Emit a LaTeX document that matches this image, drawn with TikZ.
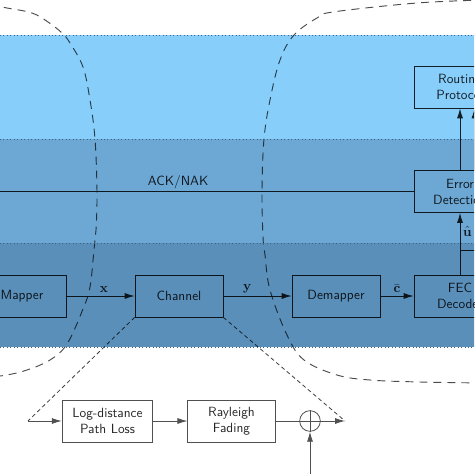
\documentclass[tikz,border=0pt]{standalone}
\usetikzlibrary{arrows.meta,calc}
\definecolor{bandA}{HTML}{87CEFA}
\definecolor{bandB}{HTML}{6DA7D4}
\definecolor{bandC}{HTML}{5A8FBA}
\definecolor{ink}{HTML}{262626}
\definecolor{grayink}{HTML}{505050}
\tikzset{
  blk/.style={draw=ink, line width=0.6pt, minimum width=66pt, minimum height=31.5pt, align=center, text=ink, font=\sffamily},
  rblk/.style={blk, minimum width=69pt},
  gblk/.style={draw=grayink, line width=0.6pt, minimum height=31.5pt, align=center, text=black!85, font=\sffamily},
  arr/.style={draw=ink, line width=0.6pt, -{Latex[length=7.5pt,width=4.5pt]}},
  conn/.style={draw=ink, line width=0.6pt},
  garr/.style={draw=grayink, line width=0.6pt, -{Latex[length=7.5pt,width=4.5pt]}},
  gconn/.style={draw=grayink, line width=0.6pt},
  bigdash/.style={draw=black!70, line width=0.7pt, dash pattern=on 6pt off 4.5pt},
  finedash/.style={draw=black!75, line width=0.6pt, dash pattern=on 3pt off 2.2pt},
  bandline/.style={draw=bandC!70!black, line width=0.6pt, dotted},
  lbl/.style={text=ink, inner sep=2pt},
}
\begin{document}
\begin{tikzpicture}[x=0.75pt, y=-0.75pt]
\useasboundingbox (0,0) rectangle (474,474);
\clip (0,0) rectangle (474,474);
\fill[white] (0,0) rectangle (474,474);

% dashed layer curves
\draw[bigdash] plot[smooth, tension=0.6] coordinates {(-10,5) (7,8) (32,13) (48,22) (62,33) (70,43) (83,67) (90,100) (95,139) (97,192) (96,230) (94,250) (90,287) (83,309) (67,344) (50,360) (27,370) (7,375) (-10,377)};
\draw[bigdash] plot[smooth, tension=0.6] coordinates {(485,0) (417,3) (333,12) (317,18) (294,35) (280,60) (270,100) (264,139) (262,190) (263,237) (265,255) (270,290) (287,335) (304,360) (337,375) (370,380) (420,382) (485,383)};

% upper chain
\node[blk] (map) at (22,296) {Mapper};
\node[blk] (chan) at (179,296) {Channel};
\node[blk] (demap) at (336,296) {Demapper};
\node[rblk] (fec) at (460,296) {FEC\\Decoder};
\node[rblk] (err) at (460,191.5) {Error\\Detection};
\node[rblk] (rout) at (460,87) {Routing\\Protocol};

\draw[arr] (map) -- node[lbl, above, pos=0.55] {$\mathbf{x}$} (chan);
\draw[arr] (chan) -- node[lbl, above, pos=0.35] {$\mathbf{y}$} (demap);
\draw[arr] (demap) -- node[lbl, above, pos=0.5] {$\bar{\mathbf{c}}$} (fec);
\draw[arr] (fec) -- node[lbl, right, pos=0.7] {$\hat{\mathbf{u}}$} (err);
\coordinate (br) at (460,250);
\coordinate (brend) at (485,250);
\draw[conn] (br) -- (brend);
\draw[arr] (err) -- (rout);
\draw[arr] ($(err.north)+(14.5,0)$) -- ($(rout.south)+(14.5,0)$);
\coordinate (ackend) at (-10,191.5);
\draw[conn] (err.west) -- node[lbl, above, pos=0.556, font=\sffamily] {ACK/NAK} (ackend);

% lower chain
\coordinate (in) at (28,421);
\node[gblk, minimum width=68pt] (pl) at (107.5,421) {Log-distance\\Path Loss};
\node[gblk, minimum width=65.5pt] (ray) at (231.5,421) {Rayleigh\\Fading};
\node[circle, draw=grayink, line width=0.6pt, minimum size=15.5pt, inner sep=0pt] (sum) at (310,421) {};
\draw[gconn] (sum.north) -- (sum.south);
\draw[gconn] (sum.west) -- (sum.east);
\coordinate (out) at (345,421);
\coordinate (noise) at (310,480);
\draw[garr] (in) -- (pl);
\draw[garr] (pl) -- (ray);
\draw[gconn] (ray) -- (sum);
\draw[garr] (sum) -- (out);
\draw[garr] (noise) -- (sum);
\draw[finedash] (chan.south west) -- (in);
\draw[finedash] (chan.south east) -- (out);

% layer bands (multiply)
\begin{scope}[blend mode=multiply]
\fill[bandA] (-5,35) rectangle (480,139);
\fill[bandB] (-5,139) rectangle (480,243);
\fill[bandC] (-5,243) rectangle (480,347);
\end{scope}
\draw[bandline] (0,35) -- (474,35);
\draw[bandline] (0,139) -- (474,139);
\draw[bandline] (0,243) -- (474,243);
\draw[bandline] (0,347) -- (474,347);
\end{tikzpicture}
\end{document}
